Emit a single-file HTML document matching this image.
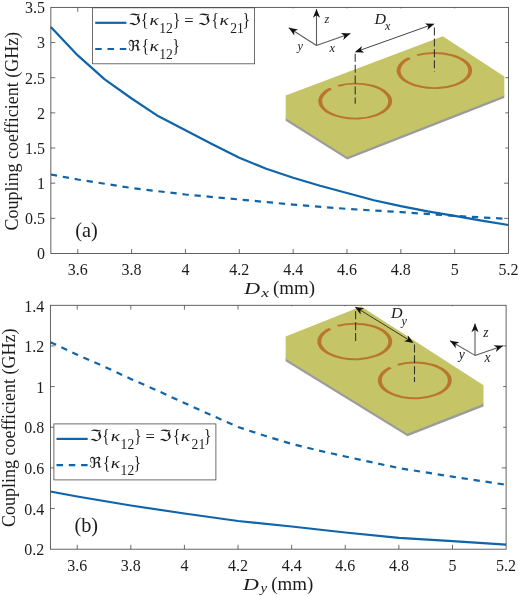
<!DOCTYPE html>
<html lang="en"><head><meta charset="utf-8"><title>Coupling coefficient versus ring separation</title>
<style>html,body{margin:0;padding:0;background:#fff}svg{display:block}</style></head><body>
<svg width="520" height="597" viewBox="0 0 520 597">
<rect width="520" height="597" fill="#fff"/>
<path d="M77.77 253.5v-4.4M77.77 7.4v4.4M131.61 253.5v-4.4M131.61 7.4v4.4M185.45 253.5v-4.4M185.45 7.4v4.4M239.29 253.5v-4.4M239.29 7.4v4.4M293.14 253.5v-4.4M293.14 7.4v4.4M346.98 253.5v-4.4M346.98 7.4v4.4M400.82 253.5v-4.4M400.82 7.4v4.4M454.66 253.5v-4.4M454.66 7.4v4.4M50.85 218.34h4.4M508.5 218.34h-4.4M50.85 183.19h4.4M508.5 183.19h-4.4M50.85 148.03h4.4M508.5 148.03h-4.4M50.85 112.87h4.4M508.5 112.87h-4.4M50.85 77.71h4.4M508.5 77.71h-4.4M50.85 42.56h4.4M508.5 42.56h-4.4" stroke="#484848" stroke-width="0.8" fill="none"/>
<rect x="268" y="8.4" width="237.3" height="158" fill="#fff"/>
<path d="M285.7 117.2L347.2 156L504.3 94.4L504.3 98L347.2 159.6L285.7 120.8Z" fill="#9b9b9b"/>
<path d="M285.7 95.6L442.8 36.3L504.3 76.5L504.3 95.4L347.2 157L285.7 118.2Z" fill="#c5c467"/>
<path transform="translate(355.2 101.1) scale(1 0.5)" d="M-16.97 -30.61A35.0 35.0 0 1 1 -24.31 -25.18" fill="none" stroke="#ba752d" stroke-width="3.9"/>
<path transform="translate(434.4 70.6) scale(1 0.49)" d="M-17.36 -31.31A35.8 35.8 0 1 1 -24.87 -25.75" fill="none" stroke="#ba752d" stroke-width="3.9"/>
<path d="M355.2 53.8V103.8M434.4 27.5V71.5" stroke="#262626" stroke-opacity="0.9" stroke-width="1.1" stroke-dasharray="8 2.9" fill="none"/>
<path d="M359.41 50.52L429.89 25.38" stroke="#222" stroke-width="0.85"/>
<path d="M354.7 52.2L362 45.88L360.8 50.02L364.35 52.47Z" fill="#111"/>
<path d="M434.6 23.7L427.3 30.02L428.5 25.88L424.95 23.43Z" fill="#111"/>
<g fill="#1c1c1c">
<text transform="translate(374.5 23.5) scale(1.12 1)" font-family='"Liberation Serif","DejaVu Serif",serif' font-size="14.3" font-style="italic">D</text>
<text transform="translate(384.9 29.6) scale(1.05 1)" font-family='"Liberation Serif","DejaVu Serif",serif' font-size="11.5" font-style="italic">x</text>
</g>
<path d="M316.5 45.5L316.5 9.0" stroke="#5c5c5c" stroke-width="1.1" fill="none"/>
<path d="M316.5 9L320.1 17.8L316.5 15.34L312.9 17.8Z" fill="#111"/>
<path d="M316.5 45.5L350.4 33.6" stroke="#5c5c5c" stroke-width="1.1" fill="none"/>
<path d="M350.4 33.6L343.29 39.91L344.42 35.7L340.9 33.12Z" fill="#111"/>
<path d="M316.5 45.5L288.8 27.8" stroke="#5c5c5c" stroke-width="1.1" fill="none"/>
<path d="M288.8 27.8L298.15 29.5L294.14 31.21L294.28 35.57Z" fill="#111"/>
<text x="324.4" y="23" font-family='"Liberation Serif","DejaVu Serif",serif' font-style="italic" font-size="12.3" fill="#1c1c1c">z</text>
<text x="297.4" y="49.6" font-family='"Liberation Serif","DejaVu Serif",serif' font-style="italic" font-size="12.3" fill="#1c1c1c">y</text>
<text x="329.5" y="51.8" font-family='"Liberation Serif","DejaVu Serif",serif' font-style="italic" font-size="12.3" fill="#1c1c1c">x</text>
<path d="M50.85 27.1 L77.77 55.4 L104.69 79.4 L131.61 98.5 L158.53 116.3 L185.45 130.3 L212.37 144.3 L239.29 157.8 L266.21 168.8 L293.14 177.7 L320.06 185.8 L346.98 193 L373.9 200.2 L400.82 206.1 L427.74 211.3 L454.66 215.8 L481.58 220.7 L508.5 225" fill="none" stroke="#0f64aa" stroke-width="2.2" stroke-linejoin="round"/>
<path d="M50.85 174.5 L77.77 179.5 L131.61 188 L185.45 194.5 L239.29 199.5 L293.14 204.6 L346.98 208.9 L400.82 212.1 L454.66 215.9 L508.5 218.9" fill="none" stroke="#0f64aa" stroke-width="2.2" stroke-linejoin="round" stroke-dasharray="6.3 5.8"/>
<rect x="92.6" y="7.8" width="162" height="56" fill="#fff" stroke="#4a4a4a" stroke-width="0.8"/>
<path d="M95.2 22.8h31.2" stroke="#0f64aa" stroke-width="2.2"/>
<path d="M95.2 49h31.2" stroke="#0f64aa" stroke-width="2.2" stroke-dasharray="6.5 5.8"/>
<g fill="#1c1c1c">
<text transform="translate(128.2 25.2) scale(1.17 1)" font-family='"DejaVu Sans","Liberation Sans",sans-serif' font-size="15.4">ℑ</text>
<text transform="translate(141 26.2) scale(0.82 1)" font-family='"Liberation Serif","DejaVu Serif",serif' font-size="18.5">{</text>
<text transform="translate(149.4 25.2) scale(1.36 1)" font-family='"Liberation Serif","DejaVu Serif",serif' font-size="14.4" font-style="italic">κ</text>
<text x="159.3" y="32.6" font-family='"Liberation Serif","DejaVu Serif",serif' font-size="13.6">12</text>
<text transform="translate(172.9 26.2) scale(0.82 1)" font-family='"Liberation Serif","DejaVu Serif",serif' font-size="18.5">}</text>
<text x="184.2" y="25.6" font-family='"Liberation Serif","DejaVu Serif",serif' font-size="16.7">=</text>
<text transform="translate(197.8 25.2) scale(1.17 1)" font-family='"DejaVu Sans","Liberation Sans",sans-serif' font-size="15.4">ℑ</text>
<text transform="translate(211.6 26.2) scale(0.82 1)" font-family='"Liberation Serif","DejaVu Serif",serif' font-size="18.5">{</text>
<text transform="translate(219.5 25.2) scale(1.36 1)" font-family='"Liberation Serif","DejaVu Serif",serif' font-size="14.4" font-style="italic">κ</text>
<text x="230.3" y="32.6" font-family='"Liberation Serif","DejaVu Serif",serif' font-size="13.6">21</text>
<text transform="translate(242.8 26.2) scale(0.82 1)" font-family='"Liberation Serif","DejaVu Serif",serif' font-size="18.5">}</text>
<text transform="translate(128.2 51.4) scale(1.02 1)" font-family='"DejaVu Sans","Liberation Sans",sans-serif' font-size="15">ℜ</text>
<text transform="translate(141.8 52.4) scale(0.82 1)" font-family='"Liberation Serif","DejaVu Serif",serif' font-size="18.5">{</text>
<text transform="translate(149.5 51.4) scale(1.36 1)" font-family='"Liberation Serif","DejaVu Serif",serif' font-size="14.4" font-style="italic">κ</text>
<text x="159.3" y="58.6" font-family='"Liberation Serif","DejaVu Serif",serif' font-size="13.6">12</text>
<text transform="translate(172.5 52.4) scale(0.82 1)" font-family='"Liberation Serif","DejaVu Serif",serif' font-size="18.5">}</text>
</g>
<rect x="50.85" y="7.4" width="457.65" height="246.1" fill="none" stroke="#484848" stroke-width="0.85"/>
<g font-family='"Liberation Serif","DejaVu Serif",serif' font-size="16" fill="#1c1c1c">
<text x="77.77" y="274.9" text-anchor="middle">3.6</text>
<text x="131.61" y="274.9" text-anchor="middle">3.8</text>
<text x="185.45" y="274.9" text-anchor="middle">4</text>
<text x="239.29" y="274.9" text-anchor="middle">4.2</text>
<text x="293.14" y="274.9" text-anchor="middle">4.4</text>
<text x="346.98" y="274.9" text-anchor="middle">4.6</text>
<text x="400.82" y="274.9" text-anchor="middle">4.8</text>
<text x="454.66" y="274.9" text-anchor="middle">5</text>
<text x="508.5" y="274.9" text-anchor="middle">5.2</text>
<text x="44.9" y="259.3" text-anchor="end">0</text>
<text x="44.9" y="224.14" text-anchor="end">0.5</text>
<text x="44.9" y="188.99" text-anchor="end">1</text>
<text x="44.9" y="153.83" text-anchor="end">1.5</text>
<text x="44.9" y="118.67" text-anchor="end">2</text>
<text x="44.9" y="83.51" text-anchor="end">2.5</text>
<text x="44.9" y="48.36" text-anchor="end">3</text>
<text x="44.9" y="13.2" text-anchor="end">3.5</text>
</g>
<text x="75.2" y="236.5" font-family='"Liberation Serif","DejaVu Serif",serif' font-size="20.3" fill="#1c1c1c">(a)</text>
<text transform="translate(18 131.2) rotate(-90)" text-anchor="middle" font-family='"Liberation Serif","DejaVu Serif",serif' font-size="18" fill="#1c1c1c">Coupling coefficient (GHz)</text>
<g fill="#1c1c1c">
<text transform="translate(244.3 294.3) scale(1.25 1)" font-family='"Liberation Serif","DejaVu Serif",serif' font-size="17.6" font-style="italic">D</text>
<text transform="translate(261.2 297.2) scale(1.3 1)" font-family='"Liberation Serif","DejaVu Serif",serif' font-size="13.4" font-style="italic">x</text>
<text x="273.0" y="294.3" font-family='"Liberation Serif","DejaVu Serif",serif' font-size="18.4" textLength="42" lengthAdjust="spacingAndGlyphs">(mm)</text>
</g>
<path d="M77.21 549.2v-4.4M77.21 305.3v4.4M130.82 549.2v-4.4M130.82 305.3v4.4M184.43 549.2v-4.4M184.43 305.3v4.4M238.04 549.2v-4.4M238.04 305.3v4.4M291.65 549.2v-4.4M291.65 305.3v4.4M345.26 549.2v-4.4M345.26 305.3v4.4M398.88 549.2v-4.4M398.88 305.3v4.4M452.49 549.2v-4.4M452.49 305.3v4.4M50.4 508.55h4.4M506.1 508.55h-4.4M50.4 467.9h4.4M506.1 467.9h-4.4M50.4 427.25h4.4M506.1 427.25h-4.4M50.4 386.6h4.4M506.1 386.6h-4.4M50.4 345.95h4.4M506.1 345.95h-4.4" stroke="#484848" stroke-width="0.8" fill="none"/>
<rect x="268" y="306.2" width="235.2" height="126" fill="#fff"/>
<path d="M285.6 357.7L407.5 432.7L483.5 402.8L483.5 406.4L407.5 436.3L285.6 361.3Z" fill="#9b9b9b"/>
<path d="M285.6 336.5L361.2 306.4L483.5 385.2L483.5 403.8L407.5 433.7L285.6 358.7Z" fill="#c5c467"/>
<path transform="translate(354.8 341.5) scale(1 0.5)" d="M-17.21 -31.05A35.5 35.5 0 1 1 -24.66 -25.54" fill="none" stroke="#ba752d" stroke-width="3.9"/>
<path transform="translate(414.8 380.4) scale(1 0.51)" d="M-16.97 -30.61A35.0 35.0 0 1 1 -24.31 -25.18" fill="none" stroke="#ba752d" stroke-width="3.9"/>
<path d="M355.6 311.3V344M414.5 344.4V382.1" stroke="#262626" stroke-opacity="0.9" stroke-width="1.1" stroke-dasharray="8 2.9" fill="none"/>
<path d="M359.06 309.32L409.34 340.28" stroke="#222" stroke-width="0.85"/>
<path d="M354.8 306.7L364.3 308.44L360.32 310.1L360.63 314.4Z" fill="#111"/>
<path d="M413.6 342.9L404.1 341.16L408.08 339.5L407.77 335.2Z" fill="#111"/>
<g fill="#1c1c1c">
<text transform="translate(391 318) scale(1.12 1)" font-family='"Liberation Serif","DejaVu Serif",serif' font-size="14.3" font-style="italic">D</text>
<text transform="translate(401.6 324.8) scale(1.05 1)" font-family='"Liberation Serif","DejaVu Serif",serif' font-size="11.5" font-style="italic">y</text>
</g>
<path d="M475.0 355.4L475.0 323.5" stroke="#5c5c5c" stroke-width="1.1" fill="none"/>
<path d="M475 323.5L478.6 332.3L475 329.84L471.4 332.3Z" fill="#111"/>
<path d="M475.0 355.4L503.1 345.7" stroke="#5c5c5c" stroke-width="1.1" fill="none"/>
<path d="M503.1 345.7L495.96 351.97L497.11 347.77L493.61 345.17Z" fill="#111"/>
<path d="M475.0 355.4L450.0 340.8" stroke="#5c5c5c" stroke-width="1.1" fill="none"/>
<path d="M450 340.8L459.41 342.13L455.47 344L455.78 348.35Z" fill="#111"/>
<text x="483.2" y="337.0" font-family='"Liberation Serif","DejaVu Serif",serif' font-style="italic" font-size="13.6" fill="#1c1c1c">z</text>
<text x="458.8" y="358.6" font-family='"Liberation Serif","DejaVu Serif",serif' font-style="italic" font-size="13.6" fill="#1c1c1c">y</text>
<text x="484.6" y="362.0" font-family='"Liberation Serif","DejaVu Serif",serif' font-style="italic" font-size="13.6" fill="#1c1c1c">x</text>
<path d="M50.4 491.5 L77.21 496.5 L130.82 505.5 L184.43 513.5 L238.04 521 L291.65 526.5 L345.26 532.5 L398.88 537.8 L452.49 541.2 L506.1 544.6" fill="none" stroke="#0f64aa" stroke-width="2.2" stroke-linejoin="round"/>
<path d="M50.4 342.2 L77.21 354.7 L104.01 366.5 L130.82 378.9 L157.62 390.7 L184.43 403 L211.24 415.1 L238.04 427 L264.85 435.8 L291.65 443.9 L318.46 450.5 L345.26 456.5 L398.88 468.1 L452.49 476.7 L506.1 484.8" fill="none" stroke="#0f64aa" stroke-width="2.2" stroke-linejoin="round" stroke-dasharray="6.3 5.8"/>
<rect x="53.9" y="423.9" width="162" height="56" fill="#fff" stroke="#4a4a4a" stroke-width="0.8"/>
<path d="M56.5 438.9h31.2" stroke="#0f64aa" stroke-width="2.2"/>
<path d="M56.5 465.1h31.2" stroke="#0f64aa" stroke-width="2.2" stroke-dasharray="6.5 5.8"/>
<g fill="#1c1c1c">
<text transform="translate(89.5 441.3) scale(1.17 1)" font-family='"DejaVu Sans","Liberation Sans",sans-serif' font-size="15.4">ℑ</text>
<text transform="translate(102.3 442.3) scale(0.82 1)" font-family='"Liberation Serif","DejaVu Serif",serif' font-size="18.5">{</text>
<text transform="translate(110.7 441.3) scale(1.36 1)" font-family='"Liberation Serif","DejaVu Serif",serif' font-size="14.4" font-style="italic">κ</text>
<text x="120.6" y="448.7" font-family='"Liberation Serif","DejaVu Serif",serif' font-size="13.6">12</text>
<text transform="translate(134.2 442.3) scale(0.82 1)" font-family='"Liberation Serif","DejaVu Serif",serif' font-size="18.5">}</text>
<text x="145.5" y="441.7" font-family='"Liberation Serif","DejaVu Serif",serif' font-size="16.7">=</text>
<text transform="translate(159.1 441.3) scale(1.17 1)" font-family='"DejaVu Sans","Liberation Sans",sans-serif' font-size="15.4">ℑ</text>
<text transform="translate(172.9 442.3) scale(0.82 1)" font-family='"Liberation Serif","DejaVu Serif",serif' font-size="18.5">{</text>
<text transform="translate(180.8 441.3) scale(1.36 1)" font-family='"Liberation Serif","DejaVu Serif",serif' font-size="14.4" font-style="italic">κ</text>
<text x="191.6" y="448.7" font-family='"Liberation Serif","DejaVu Serif",serif' font-size="13.6">21</text>
<text transform="translate(204.1 442.3) scale(0.82 1)" font-family='"Liberation Serif","DejaVu Serif",serif' font-size="18.5">}</text>
<text transform="translate(89.5 467.5) scale(1.02 1)" font-family='"DejaVu Sans","Liberation Sans",sans-serif' font-size="15">ℜ</text>
<text transform="translate(103.1 468.5) scale(0.82 1)" font-family='"Liberation Serif","DejaVu Serif",serif' font-size="18.5">{</text>
<text transform="translate(110.8 467.5) scale(1.36 1)" font-family='"Liberation Serif","DejaVu Serif",serif' font-size="14.4" font-style="italic">κ</text>
<text x="120.6" y="474.7" font-family='"Liberation Serif","DejaVu Serif",serif' font-size="13.6">12</text>
<text transform="translate(133.8 468.5) scale(0.82 1)" font-family='"Liberation Serif","DejaVu Serif",serif' font-size="18.5">}</text>
</g>
<rect x="50.4" y="305.3" width="455.7" height="243.9" fill="none" stroke="#484848" stroke-width="0.85"/>
<g font-family='"Liberation Serif","DejaVu Serif",serif' font-size="16" fill="#1c1c1c">
<text x="77.21" y="570.6" text-anchor="middle">3.6</text>
<text x="130.82" y="570.6" text-anchor="middle">3.8</text>
<text x="184.43" y="570.6" text-anchor="middle">4</text>
<text x="238.04" y="570.6" text-anchor="middle">4.2</text>
<text x="291.65" y="570.6" text-anchor="middle">4.4</text>
<text x="345.26" y="570.6" text-anchor="middle">4.6</text>
<text x="398.88" y="570.6" text-anchor="middle">4.8</text>
<text x="452.49" y="570.6" text-anchor="middle">5</text>
<text x="506.1" y="570.6" text-anchor="middle">5.2</text>
<text x="44.2" y="555.4" text-anchor="end">0.2</text>
<text x="44.2" y="514.75" text-anchor="end">0.4</text>
<text x="44.2" y="474.1" text-anchor="end">0.6</text>
<text x="44.2" y="433.45" text-anchor="end">0.8</text>
<text x="44.2" y="392.8" text-anchor="end">1</text>
<text x="44.2" y="352.15" text-anchor="end">1.2</text>
<text x="44.2" y="311.5" text-anchor="end">1.4</text>
</g>
<text x="74.4" y="531.6" font-family='"Liberation Serif","DejaVu Serif",serif' font-size="20.3" fill="#1c1c1c">(b)</text>
<text transform="translate(14.9 427.8) rotate(-90)" text-anchor="middle" font-family='"Liberation Serif","DejaVu Serif",serif' font-size="18" fill="#1c1c1c">Coupling coefficient (GHz)</text>
<g fill="#1c1c1c">
<text transform="translate(243 589.7) scale(1.25 1)" font-family='"Liberation Serif","DejaVu Serif",serif' font-size="17.6" font-style="italic">D</text>
<text transform="translate(260.4 591.6) scale(1.12 1)" font-family='"Liberation Serif","DejaVu Serif",serif' font-size="13.4" font-style="italic">y</text>
<text x="271.3" y="589.7" font-family='"Liberation Serif","DejaVu Serif",serif' font-size="18.4" textLength="42" lengthAdjust="spacingAndGlyphs">(mm)</text>
</g>
</svg></body></html>
